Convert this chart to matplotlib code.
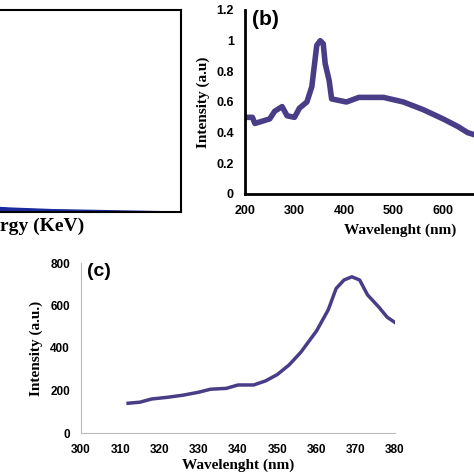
import matplotlib
matplotlib.use("Agg")
import matplotlib.pyplot as plt

# Panel (a) EDX spectrum tail (cropped)
a_energy = [0, 2, 4, 6, 8, 10, 12, 14, 16, 18, 20]
a_counts = [30, 28, 22, 18, 14, 12, 10, 8, 6, 4, 3]

# Panel (b) UV-vis
b_wl = [200, 215, 220, 230, 250, 260, 275, 285, 300, 310, 325, 335, 345, 352, 358, 362, 370, 375, 390, 405, 430, 480, 520, 560, 600, 630, 650, 670]
b_int = [0.50, 0.50, 0.46, 0.47, 0.49, 0.54, 0.57, 0.51, 0.50, 0.56, 0.60, 0.70, 0.97, 1.00, 0.98, 0.85, 0.74, 0.62, 0.61, 0.60, 0.63, 0.63, 0.60, 0.55, 0.49, 0.44, 0.40, 0.38]
b_xticks = [200, 300, 400, 500, 600]
b_yticks = [0, 0.2, 0.4, 0.6, 0.8, 1, 1.2]

# Panel (c) PL
c_wl = [312, 315, 318, 322, 326, 330, 333, 337, 340, 344, 347, 350, 353, 356, 360, 363, 365, 367, 369, 371, 373, 376, 378, 380]
c_int = [140, 145, 160, 168, 178, 192, 206, 210, 226, 226, 245, 275, 320, 380, 480, 580, 680, 720, 735, 720, 650, 590, 545, 520]
c_xticks = [300, 310, 320, 330, 340, 350, 360, 370, 380]
c_yticks = [0, 200, 400, 600, 800]

W = 474
fig = plt.figure(figsize=(4.74, 4.74), dpi=100)
sans = "Liberation Sans"
serif = "Liberation Serif"
purple = "#4a3d87"

def ax_px(l, b, r, t):
    return fig.add_axes([l / W, (W - b) / W, (r - l) / W, (b - t) / W])

# (a)
axa = ax_px(-120, 212, 181, 10)
axa.fill_between(a_energy, a_counts, color="#1a2a9a")
axa.set_xlim(-8, 20)
axa.set_ylim(0, 1000)
axa.set_xticks([]); axa.set_yticks([])
for s in axa.spines.values():
    s.set_linewidth(1.5)
fig.text(0 / W, (W - 226) / W, "rgy (KeV)", fontsize=14, fontweight="bold", family=serif, va="center")

# (b)
bw = 247.5
axb = ax_px(245, 194, 245 + bw, 10)
axb.plot(b_wl, b_int, color=purple, lw=4)
axb.set_xlim(200, 700); axb.set_ylim(0, 1.2)
axb.set_xticks(b_xticks); axb.set_yticks(b_yticks)
axb.set_yticklabels(["0", "0.2", "0.4", "0.6", "0.8", "1", "1.2"])
for s in ["top", "right"]:
    axb.spines[s].set_visible(False)
for s in ["left", "bottom"]:
    axb.spines[s].set_linewidth(2)
axb.tick_params(length=0, pad=8, labelsize=9)
for lab in axb.get_xticklabels() + axb.get_yticklabels():
    lab.set_family(sans); lab.set_fontweight("bold")
axb.set_xlabel("Wavelenght (nm)", family=serif, fontweight="bold", fontsize=11)
axb.xaxis.set_label_coords((400 - 245) / bw, -0.16)
axb.set_ylabel("Intensity (a.u)", family=serif, fontweight="bold", fontsize=11)
axb.yaxis.set_label_coords(-0.14, 0.5)
axb.text(0.03, 1.0, "(b)", transform=axb.transAxes, fontsize=15, fontweight="bold", family=sans, va="top")

# (c)
axc = ax_px(81, 433, 395, 263)
axc.plot(c_wl, c_int, color=purple, lw=2.5)
axc.set_xlim(300, 380); axc.set_ylim(0, 800)
axc.set_xticks(c_xticks); axc.set_yticks(c_yticks)
for s in ["top", "right"]:
    axc.spines[s].set_visible(False)
for s in ["left", "bottom"]:
    axc.spines[s].set_color("#bbbbbb")
axc.tick_params(length=0, pad=8, labelsize=8.5)
for lab in axc.get_xticklabels() + axc.get_yticklabels():
    lab.set_family(sans); lab.set_fontweight("bold")
axc.set_xlabel("Wavelenght (nm)", family=serif, fontweight="bold", fontsize=11)
axc.xaxis.set_label_coords(0.5, -0.15)
axc.set_ylabel("Intensity (a.u.)", family=serif, fontweight="bold", fontsize=11)
axc.yaxis.set_label_coords(-0.12, 0.5)
axc.text(0.02, 1.0, "(c)", transform=axc.transAxes, fontsize=14, fontweight="bold", family=sans, va="top")

fig.savefig("out.png", dpi=100)
